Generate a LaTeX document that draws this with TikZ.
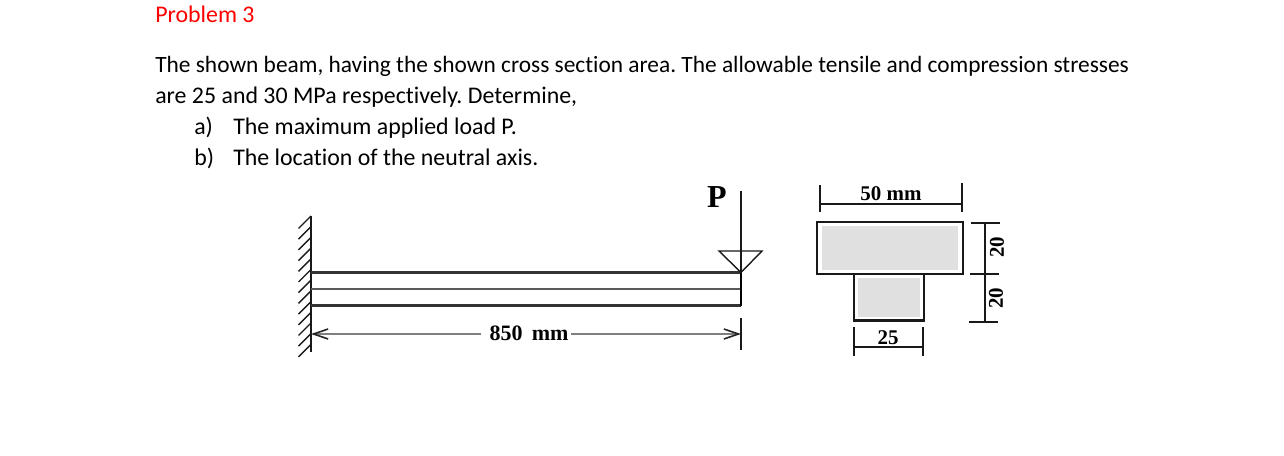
\documentclass[tikz,border=0pt]{standalone}
\usepackage{fontspec}
\setmainfont[Ligatures=NoCommon]{Carlito}
\newfontfamily\figfont{Liberation Serif}
\usetikzlibrary{arrows.meta}
\frenchspacing
\tikzset{
  body/.style={anchor=base west,inner sep=0pt,font=\frenchspacing\fontsize{17.9pt}{18pt}\selectfont},
  bodywide/.style={anchor=base west,inner sep=0pt,font=\frenchspacing\fontsize{17.53pt}{18pt}\selectfont},
  figlabel/.style={inner sep=0pt,font=\figfont\bfseries\fontsize{15.7pt}{16pt}\selectfont},
  beamline/.style={line width=1.7pt,color=black!80},
  thin line/.style={line width=1.05pt,color=black!90},
  dimgray/.style={line width=1pt,color=black!50},
  hatch/.style={line width=1.05pt,color=black!90},
  section/.style={line width=1.7pt,draw=black!90,fill=white},
  core/.style={fill=black!12,draw=none},
  barb/.style={-{Straight Barb[length=11pt,width=7.5pt,line width=1.2pt,color=black!85]}}
}
\begin{document}
\begin{tikzpicture}[x=0.75pt,y=-0.75pt]
\useasboundingbox (0,0) rectangle (1284,456);
% text
\node[body,text=red] (title) at (155,23) {Problem 3};
\node[bodywide] (l1) at (155,72.5) {The shown beam, having the shown cross section area. The allowable tensile and compression stresses};
\node[body] (l2) at (155,104) {are 25 and 30 MPa respectively. Determine,};
\node[body] (la) at (194,134.5) {a)};
\node[body] (lat) at (233,134.5) {The maximum applied load P.};
\node[body] (lb) at (194,165.5) {b)};
\node[body] (lbt) at (233,165.5) {The location of the neutral axis.};
% wall
\coordinate (wt) at (311,216);
\coordinate (wb) at (311,352);
\draw[hatch] (wt) -- (wb);
\foreach \i in {0,...,12}{
  \draw[hatch] (311,216+10.7*\i) -- (298.5,228.5+10.7*\i);
}
% beam
\coordinate (bt0) at (311,272.5);
\coordinate (bt1) at (741,272.5);
\coordinate (bm0) at (311,289);
\coordinate (bm1) at (741,289);
\coordinate (bb0) at (311,305.5);
\coordinate (bb1) at (741,305.5);
\draw[beamline] (bt0) -- (bt1);
\draw[line width=1.5pt,color=black!65] (bm0) -- (bm1);
\draw[beamline] (bb0) -- (bb1);
\draw[line width=1.9pt] (bt1) -- (bb1);
% load
\coordinate (ptop) at (741,191);
\coordinate (tl) at (719,251);
\coordinate (tr) at (762,251);
\draw[thin line] (ptop) -- (bt1);
\draw[thin line] (tl) -- (tr) -- (bt1) -- cycle;
\node[figlabel,font=\figfont\bfseries\fontsize{24pt}{25pt}\selectfont] (P) at (717,197) {P};
% length dimension
\node[figlabel,font=\figfont\bfseries\fontsize{16.5pt}{17pt}\selectfont] (len) at (529,333) {850\, mm};
\coordinate (d0) at (311,334);
\coordinate (d1) at (741,334);
\coordinate (dt0) at (741,318);
\coordinate (dt1) at (741,350);
\coordinate (ds0) at (481,334);
\coordinate (ds1) at (571,334);
\draw[thin line] (dt0) -- (dt1);
\draw[dimgray,barb] (ds0) -- (d0);
\draw[dimgray,barb] (ds1) -- (d1);
% cross section
\draw[section] (817,222) rectangle (963,274);
\draw[section] (854,274) rectangle (924,320.5);
\fill[core] (822,226) rectangle (958,270);
\fill[core] (858,278) rectangle (920,317);
% 50 mm
\node[figlabel] (w50) at (891,194) {50 mm};
\coordinate (a0) at (820,204); \coordinate (a1) at (962,204);
\draw[thin line] (a0) -- (a1);
\draw[thin line] (820,185) -- (820,212);
\draw[thin line] (962,183) -- (962,212);
% 25
\node[figlabel] (w25) at (888,338) {25};
\coordinate (c0) at (854,347); \coordinate (c1) at (923,347);
\draw[thin line] (c0) -- (c1);
\draw[thin line] (854,327) -- (854,356);
\draw[thin line] (923,327) -- (923,356);
% 20 20
\coordinate (e0) at (985,223); \coordinate (e1) at (985,322);
\draw[thin line] (e0) -- (e1);
\draw[thin line] (971,223) -- (1000,223);
\draw[thin line] (970,274) -- (999,274);
\draw[thin line] (969,322) -- (998,322);
\node[figlabel,rotate=90] (h1) at (997,247) {20};
\node[figlabel,rotate=90] (h2) at (996,298) {20};
\end{tikzpicture}
\end{document}
